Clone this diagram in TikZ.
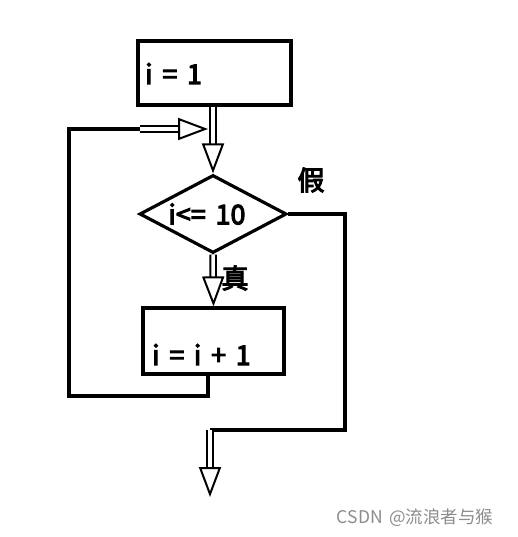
\documentclass[tikz,border=0pt]{standalone}
\usepackage{fontspec}
\setmainfont{Noto Sans CJK SC}[BoldFont={Noto Sans CJK SC}, BoldFeatures={FakeBold=4}, WordSpace=1.6]
\usetikzlibrary{shapes.geometric,arrows.meta}

\tikzset{
  box/.style={draw, line width=3.2pt, inner sep=0pt},
  txt/.style={font=\fontsize{27}{30}\selectfont\bfseries, inner sep=0pt},
  flow/.style={line width=3.2pt},
  hollow/.style={double, double distance=3.5pt, line width=2pt,
    -{Triangle[open, length=30pt, width=22pt, line width=2pt]}},
}

\begin{document}
\begin{tikzpicture}[x=1pt,y=-1pt]
  \useasboundingbox (0,0) rectangle (517,537);

  % Boxes and decision
  \node[box, minimum width=153pt, minimum height=64pt] (init) at (214.5,73) {};
  \node[txt, anchor=base west] (inittext) at (145,84) {i = 1};
  \node[box, diamond, minimum width=147pt, minimum height=78pt, aspect=1.88] (test) at (213,214) {};
  \node[txt] (testtext) at (207,214) {i<= 10};
  \node[box, minimum width=141pt, minimum height=66pt] (inc) at (213.5,341) {};
  \node[txt, anchor=base west] (inctext) at (152,365) {i = i + 1};

  % Branch labels
  \node[txt] (nolabel) at (311,180) {假};
  \node[txt] (yeslabel) at (235,278) {真};

  % Free ends of the connectors
  \coordinate (loopB) at (208,341);
  \coordinate (loopL) at (69,396);
  \coordinate (loopS) at (140,129);
  \coordinate (join) at (208,129);
  \coordinate (falseC) at (345,430);
  \coordinate (exitT) at (210,430);
  \coordinate (exit) at (210,497);

  % Main flow
  \draw[hollow] (init.south -| test.north) -- (test.north);
  \draw[hollow] (test.south) -- (inc.north);
  % Loop back
  \draw[flow] (loopB |- inc.south) |- (loopL) |- (loopS);
  \draw[hollow] (loopS) -- (join);
  % Exit
  \draw[flow] (test.east) -| (falseC) -- (exitT);
  \draw[hollow] (exitT) -- (exit);

  \node[font=\fontsize{17.5}{20}\selectfont, text=black!45] (mark) at (415,518) {CSDN @流浪者与猴};
\end{tikzpicture}
\end{document}
